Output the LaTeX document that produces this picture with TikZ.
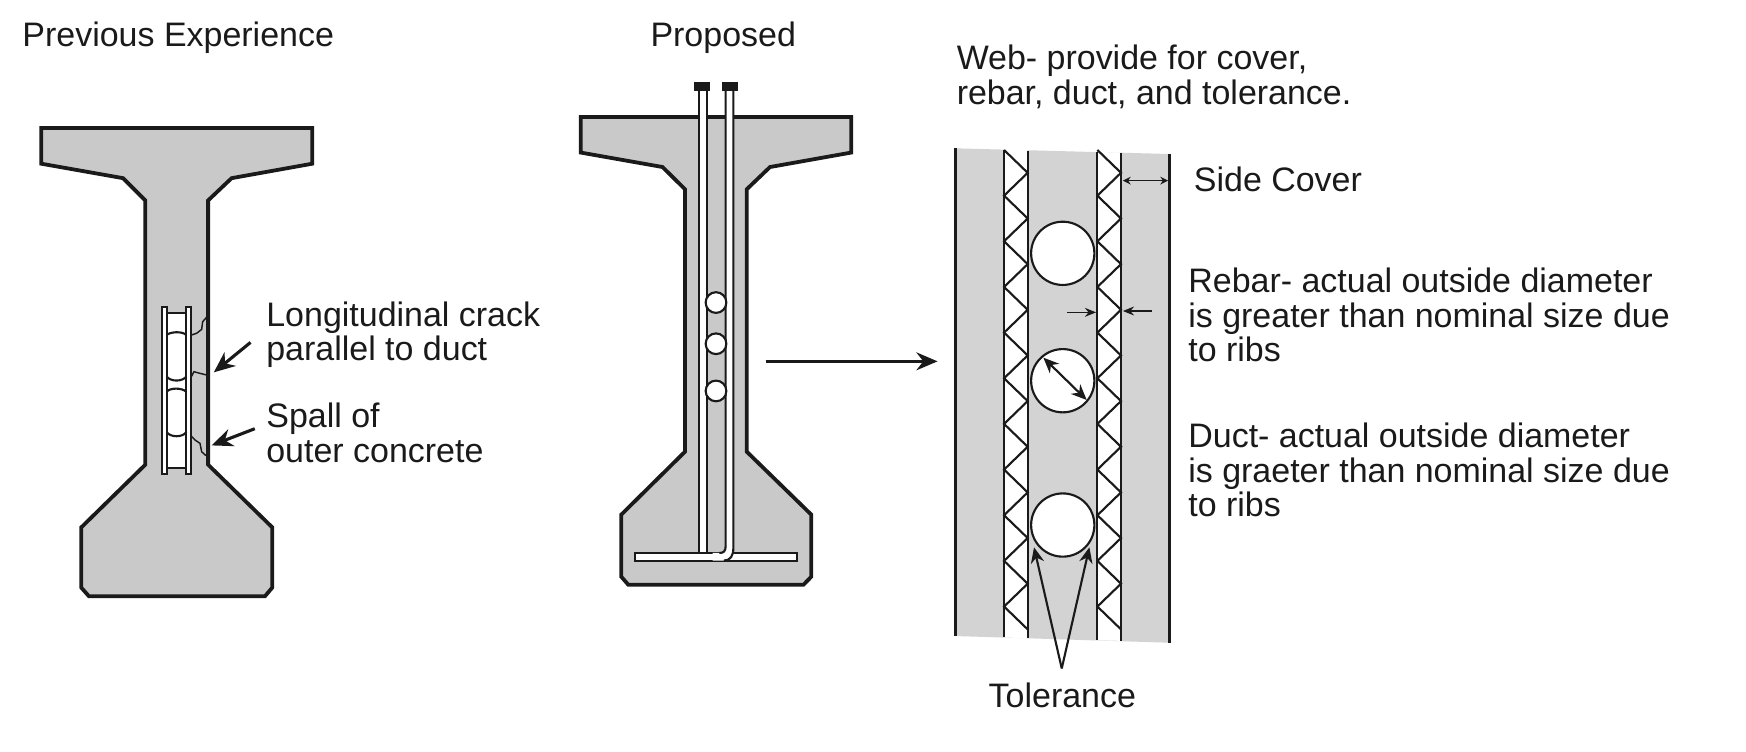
\documentclass[tikz,border=0pt]{standalone}
\usepackage{fontspec}
\setmainfont{Liberation Sans}
\usetikzlibrary{arrows.meta}
\definecolor{concrete}{HTML}{C9C9C9}
\definecolor{webgrey}{HTML}{D3D3D3}
\definecolor{ink}{HTML}{1A1A1A}
\tikzset{
  font=\fontsize{30.5}{31}\selectfont,
  label/.style = {
    inner sep=0pt,
    align=left,
    text=ink,
    anchor=base west
  },
  section/.style = {
    draw=ink,
    line width=3.4pt,
    fill=concrete,
    line join=miter
  },
  thin line/.style = {
    draw=ink,
    line width=1.9pt
  },
  pointer/.style = {
    draw=ink,
    line width=2.8pt,
    -{Stealth[length=19pt,width=16pt]}
  },
  small pointer/.style = {
    draw=ink,
    line width=1.5pt,
    -{Stealth[length=10pt,width=8pt]}
  }
}
\begin{document}
\begin{tikzpicture}[x=1pt,y=-1pt]

      \useasboundingbox (0,0) rectangle (1568,674.5);

      % previous experience
      \draw[section] (37,115) -- (280.5,115) -- (280.5,147) -- (208,160) -- (186.9,180) -- (186.9,417.3)
        -- (244.5,473.6) -- (244.5,527.7) -- (237.9,535.5) -- (79.9,535.5) -- (73,527.7) -- (73,473.6)
        -- (130.5,417.3) -- (130.5,180) -- (110.5,160) -- (37,147) -- cycle;

      \fill[white] (149,281.4) rectangle (167,420.6);
      \draw[thin line, fill=white] (145.2,275.6) rectangle (149.6,426);
      \draw[thin line, fill=white] (167.4,275.6) rectangle (171.8,426);
      \draw[thin line] (149.6,281.4) -- (167.4,281.4);
      \draw[thin line] (149.6,420.6) -- (167.4,420.6);

      \draw[thin line] (149.6,301) .. controls (152,298) and (164,297) .. (167.4,301);
      \draw[thin line] (149.6,338) .. controls (153,343) and (164,343) .. (167.4,338);
      \draw[thin line] (149.6,352) .. controls (152,348) and (164,348) .. (167.4,352);
      \draw[thin line] (149.6,388) .. controls (153,393) and (164,393) .. (167.4,388);

      \draw[thin line, line width=1.3pt] (171.8,300.9) -- (176.6,299.3) -- (181.1,295.8) -- (182,288.9) -- (185.6,284.9);
      \draw[thin line, line width=1.3pt] (171.8,338.3) -- (174.2,333.8) -- (179.6,335.3) -- (185.6,336.8);
      \draw[thin line, line width=1.3pt] (171.8,391.6) -- (175.1,395.1) -- (179.6,398.1) -- (181.1,405.7) -- (185,409.2);

      \node[label] (crack) at (239,293) {Longitudinal crack};
      \node[label] (crack2) at (239,324) {parallel to duct};
      \node[label] (spall) at (239,384) {Spall of};
      \node[label] (spall2) at (239,415) {outer concrete};
      \coordinate (crackstart) at (225,307.5);
      \coordinate (crackend) at (192,334.4);
      \coordinate (spallstart) at (228.8,385);
      \coordinate (spallend) at (190,400);
      \draw[pointer] (crackstart) -- (crackend);
      \draw[pointer] (spallstart) -- (spallend);

      \node[label] (previous) at (20,42) {Previous Experience};

      % proposed
      \draw[section] (521.5,105) -- (764.5,105) -- (764.5,137) -- (691.5,150) -- (670.6,170) -- (670.6,405.6)
        -- (728.5,462.1) -- (728.5,518) -- (721.5,525.2) -- (564.3,525.2) -- (558,518) -- (558,462.1)
        -- (615.2,405.6) -- (615.2,170) -- (595,150) -- (521.5,137) -- cycle;

      \draw[thin line, fill=white] (570.3,496.6) rectangle (715.5,503.5);
      \draw[thin line, fill=white] (627.8,81) rectangle (634.6,496.6);
      \fill[white] (651.7,81) -- (658.6,81) -- (658.6,492) .. controls (658.6,499) and (656,503.5) .. (650,503.5) -- (640,503.5)
        -- (640,496.6) -- (648,496.6) .. controls (650,496.6) and (651.7,495) .. (651.7,490) -- cycle;
      \draw[thin line] (651.7,81) -- (651.7,490) .. controls (651.7,495) and (650,496.6) .. (646,496.6);
      \draw[thin line] (658.6,81) -- (658.6,492) .. controls (658.6,499) and (656,503.5) .. (650,503.5);

      \fill[ink] (623.6,73.4) rectangle (637.6,81.5);
      \fill[ink] (648.4,73.4) rectangle (662.5,81.5);

      \foreach \ypos in {271.7,308.7,351.1}
        \draw[thin line, fill=white] (643,\ypos) circle (9.3);

      \node[label] (proposed) at (584,42) {Proposed};

      \coordinate (viewstart) at (687.6,324.5);
      \coordinate (viewend) at (842,324.5);
      \draw[pointer] (viewstart) -- (viewend);

      % web detail
      \fill[webgrey] (858,133.2) -- (1050.2,138.3) -- (1050.2,577.2) -- (858,571.2) -- cycle;
      \fill[white] (901.7,133.4) -- (922.9,134) -- (922.9,573.3) -- (901.7,572.4) -- cycle;
      \fill[white] (985.5,136.5) -- (1006.8,137) -- (1006.8,575.5) -- (985.5,575) -- cycle;

      \draw[ink, line width=3.2pt] (858,133.2) -- (858,571.2);
      \draw[ink, line width=3.2pt] (1050.2,138.3) -- (1050.2,577.2);
      \draw[thin line] (901.7,134.6) -- (901.7,572.4);
      \draw[thin line] (922.9,135.2) -- (922.9,573.3);
      \draw[thin line] (985.5,136.7) -- (985.5,575);
      \draw[thin line] (1006.8,137) -- (1006.8,575.5);

      \foreach \col in {901.7,985.5}
        \draw[thin line] (\col,134.7) \foreach \n in {1,...,21} { -- ({\col+21.2*mod(\n,2)},{134.7+20.5*\n}) };

      \foreach \ypos in {227.5,341.9,471.5}
        \draw[thin line, fill=white] (954.4,\ypos) circle (28.4);

      \coordinate (diamA) at (937,321.2);
      \coordinate (diamB) at (975.9,359.2);
      \draw[thin line, {Stealth[length=14pt,width=12pt]}-{Stealth[length=14pt,width=12pt]}] (diamA) -- (diamB);

      \coordinate (coverA) at (1008.4,162.2);
      \coordinate (coverB) at (1049,162.2);
      \draw[small pointer, {Stealth[length=7pt,width=7pt]}-{Stealth[length=7pt,width=7pt]}] (coverA) -- (coverB);

      \coordinate (rebarA) at (958.6,280.5);
      \coordinate (rebarB) at (984.3,280.5);
      \coordinate (rebarC) at (1034.3,279.3);
      \coordinate (rebarD) at (1008.4,279.3);
      \draw[small pointer] (rebarA) -- (rebarB);
      \draw[small pointer] (rebarC) -- (rebarD);

      \coordinate (apex) at (953.5,600.3);
      \coordinate (tolA) at (928.6,491.5);
      \coordinate (tolB) at (978.3,491.5);
      \draw[thin line, -{Stealth[length=14pt,width=12pt]}] (apex) -- (tolA);
      \draw[thin line, -{Stealth[length=14pt,width=12pt]}] (apex) -- (tolB);

      \node[label] (web) at (859,62) {Web- provide for cover,};
      \node[label] (web2) at (859,94) {rebar, duct, and tolerance.};
      \node[label] (side) at (1072,172) {Side Cover};
      \node[label] (rebar) at (1067,263) {Rebar- actual outside diameter};
      \node[label] (rebar2) at (1067,294) {is greater than nominal size due};
      \node[label] (rebar3) at (1067,325) {to ribs};
      \node[label] (duct) at (1067,402) {Duct- actual outside diameter};
      \node[label] (duct2) at (1067,433) {is graeter than nominal size due};
      \node[label] (duct3) at (1067,464) {to ribs};
      \node[label, anchor=base] (tolerance) at (954,635) {Tolerance};

    \end{tikzpicture}
\end{document}
